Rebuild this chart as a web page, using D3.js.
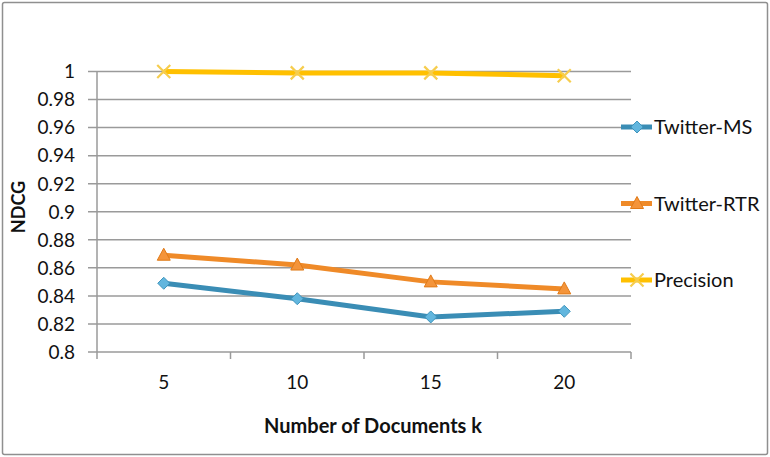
<!DOCTYPE html>
<html>
<head>
<meta charset="utf-8">
<script src="https://cdn.jsdelivr.net/npm/d3@7"></script>
<style>
  body { margin: 0; background: #fff; }
  text { font-family: Lato, "Open Sans", sans-serif; fill: #111; }
</style>
</head>
<body>
<script>
// data
var categories = ["5", "10", "15", "20"];
var twitterMS  = [0.849, 0.838, 0.825, 0.829];
var twitterRTR = [0.869, 0.862, 0.850, 0.845];
var precision  = [1.000, 0.999, 0.999, 0.997];
var seriesNames = ["Twitter-MS", "Twitter-RTR", "Precision"];
var yTicks = [0.8, 0.82, 0.84, 0.86, 0.88, 0.9, 0.92, 0.94, 0.96, 0.98, 1];
var yTickLabels = ["0.8", "0.82", "0.84", "0.86", "0.88", "0.9", "0.92", "0.94", "0.96", "0.98", "1"];

var width = 770, height = 457;
var plotLeft = 97, plotRight = 631, plotTop = 71.5, plotBottom = 352;

var svg = d3.select("body").append("svg")
    .attr("width", width)
    .attr("height", height);

svg.append("rect")
    .attr("x", 2.5).attr("y", 2.5)
    .attr("width", width - 5).attr("height", height - 5)
    .attr("rx", 2)
    .attr("fill", "#fff")
    .attr("stroke", "#8f8f8f")
    .attr("stroke-width", 1.5);

var x = d3.scaleBand().domain(categories).range([plotLeft, plotRight]);
var y = d3.scaleLinear().domain([0.8, 1]).range([plotBottom, plotTop]);
var cx = function(c) { return x(c) + x.bandwidth() / 2; };

// grid lines (they also make the little ticks left of the axis)
svg.selectAll(".grid")
    .data(yTicks)
    .enter().append("line")
        .attr("x1", plotLeft - 9).attr("x2", plotRight)
        .attr("y1", function(d) { return y(d); })
        .attr("y2", function(d) { return y(d); })
        .attr("stroke", "#9a9a9a")
        .attr("stroke-width", 1.5);

svg.selectAll(".ylab")
    .data(yTicks)
    .enter().append("text")
        .attr("x", 75)
        .attr("y", function(d) { return y(d); })
        .attr("dy", "0.36em")
        .attr("text-anchor", "end")
        .style("font-size", "19px")
        .text(function(d, i) { return yTickLabels[i]; });

// y axis line
svg.append("line")
    .attr("x1", plotLeft).attr("x2", plotLeft)
    .attr("y1", plotTop).attr("y2", plotBottom)
    .attr("stroke", "#9a9a9a").attr("stroke-width", 1.5);

// x axis ticks sit on band edges
var edges = categories.map(function(c) { return x(c); }).concat([plotRight]);
svg.selectAll(".xtick")
    .data(edges)
    .enter().append("line")
        .attr("x1", function(d) { return d; })
        .attr("x2", function(d) { return d; })
        .attr("y1", plotBottom).attr("y2", plotBottom + 7)
        .attr("stroke", "#9a9a9a").attr("stroke-width", 1.5);

svg.selectAll(".xlab")
    .data(categories)
    .enter().append("text")
        .attr("x", cx)
        .attr("y", plotBottom + 37)
        .attr("text-anchor", "middle")
        .style("font-size", "19px")
        .text(function(d) { return d; });

svg.append("text")
    .attr("x", 373).attr("y", 433)
    .attr("text-anchor", "middle")
    .style("font-size", "20px")
    .style("font-weight", "bold")
    .text("Number of Documents k");

svg.append("text")
    .attr("transform", "translate(25,207) rotate(-90)")
    .attr("text-anchor", "middle")
    .style("font-size", "18px")
    .style("font-weight", "bold")
    .text("NDCG");

// series
var series = [
    { name: seriesNames[0], values: twitterMS,  color: "#3a8db5", fill: "#62b6de", edge: "#3f95bd", shape: "diamond" },
    { name: seriesNames[1], values: twitterRTR, color: "#ef8a28", fill: "#f4943a", edge: "#e07a18", shape: "triangle" },
    { name: seriesNames[2], values: precision,  color: "#ffc000", fill: "none",    edge: "#f6cd4e", shape: "cross" }
];

var line = d3.line()
    .x(function(d, i) { return cx(categories[i]); })
    .y(function(d) { return y(d); });

function marker(g, s) {
    if (s.shape == "diamond") {
        g.append("path").attr("d", "M0,-6L6,0L0,6L-6,0Z")
            .attr("fill", s.fill).attr("stroke", s.edge).attr("stroke-width", 1);
    } else if (s.shape == "triangle") {
        g.append("path").attr("d", "M0,-7L6.5,5L-6.5,5Z")
            .attr("fill", s.fill).attr("stroke", s.edge).attr("stroke-width", 1);
    } else {
        g.append("path").attr("d", "M-6.5,-6.5L6.5,6.5M-6.5,6.5L6.5,-6.5")
            .attr("fill", "none").attr("stroke", s.edge).attr("stroke-width", 2.2);
    }
}

series.forEach(function(s) {
    svg.append("path")
        .datum(s.values)
        .attr("d", line)
        .attr("fill", "none")
        .attr("stroke", s.color)
        .attr("stroke-width", 5)
        .attr("stroke-linejoin", "round");

    s.values.forEach(function(v, i) {
        var g = svg.append("g")
            .attr("transform", "translate(" + cx(categories[i]) + "," + y(v) + ")");
        marker(g, s);
    });
});

// legend
var legendY = [127, 203.5, 280];
series.forEach(function(s, i) {
    var g = svg.append("g").attr("transform", "translate(637," + legendY[i] + ")");
    g.append("line")
        .attr("x1", -16).attr("x2", 15)
        .attr("stroke", s.color).attr("stroke-width", 5);
    marker(g, s);
    g.append("text")
        .attr("x", 17)
        .attr("dy", "0.36em")
        .style("font-size", "20px")
        .text(s.name);
});
</script>
</body>
</html>
